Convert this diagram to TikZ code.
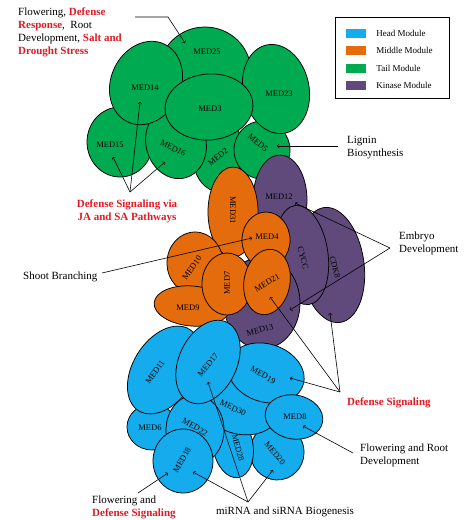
\documentclass[tikz,border=0pt]{standalone}
\usepackage{fontspec}
\setmainfont{Liberation Serif}
\usepackage{xcolor}
\usepackage{tikz}
\usetikzlibrary{shapes.geometric,positioning,arrows}
\definecolor{headblue}{RGB}{20,172,236}
\definecolor{midorange}{RGB}{228,108,12}
\definecolor{tailgreen}{RGB}{0,170,80}
\definecolor{kinpurple}{RGB}{96,74,123}
\definecolor{notered}{RGB}{225,25,35}
\newcommand{\redbf}[1]{\textcolor{notered}{\textbf{#1}}}

\begin{document}
\begin{tikzpicture}[x=1pt,y=-1pt,
		sub/.style={ellipse,draw=black,line width=0.75pt,inner sep=0pt},
		tail/.style={sub,fill=tailgreen},
		kin/.style={sub,fill=kinpurple},
		mid/.style={sub,fill=midorange},
		head/.style={sub,fill=headblue},
		lbl/.style={font=\fontsize{8.5}{9}\selectfont,inner sep=0pt},
		note/.style={font=\fontsize{11}{13}\selectfont,align=left,inner sep=0pt},
		pointer/.style={->,line width=0.6pt},
		swatch/.style={minimum width=20pt,minimum height=9pt,inner sep=0pt},
		keytext/.style={font=\fontsize{9}{10}\selectfont,inner sep=0pt,right=10pt of #1}]
		\useasboundingbox (0,0) rectangle (474,520);
		% tail module
		\node[tail,minimum width=92,minimum height=90] (med25) at (205,72) {};
		\node[tail,minimum width=54,minimum height=70] (med2) at (220,157) {};
		\node[tail,minimum width=56,minimum height=58] (med5) at (262,150) {};
		\node[tail,minimum width=66,minimum height=70] (med15) at (120,142) {};
		\node[tail,minimum width=60,minimum height=72,rotate=15] (med16) at (176,143) {};
		\node[tail,minimum width=66,minimum height=90,rotate=12] (med23) at (276,89) {};
		\node[tail,minimum width=70,minimum height=86,rotate=-25] (med14) at (146,83) {};
		\node[tail,minimum width=88,minimum height=66,rotate=5] (med3) at (209,107) {};
		% kinase module
		\node[kin,minimum width=64,minimum height=116,rotate=8] (cdk8) at (332,265) {};
		\node[kin,minimum width=54,minimum height=90] (med12) at (280,200) {};
		\node[kin,minimum width=52,minimum height=100,rotate=8] (cycc) at (302,255) {};
		\node[kin,minimum width=76,minimum height=92] (med13) at (262,303) {};
		% middle module
		\node[mid,minimum width=50,minimum height=90] (med31) at (233,212) {};
		\node[mid,minimum width=56,minimum height=62] (med10) at (195,263) {};
		\node[mid,minimum width=76,minimum height=40,rotate=-5] (med9) at (192,306) {};
		\node[mid,minimum width=48,minimum height=56] (med4) at (266,240) {};
		\node[mid,minimum width=50,minimum height=62] (med7) at (227,284) {};
		\node[mid,minimum width=46,minimum height=66,rotate=-10] (med21) at (267,282) {};
		% head module
		\node[head,minimum width=54,minimum height=56,rotate=10] (med20) at (277,452) {};
		\node[head,minimum width=40,minimum height=64,rotate=10] (med28) at (233,446) {};
		\node[head,minimum width=80,minimum height=58,rotate=-15] (med30) at (240,405) {};
		\node[head,minimum width=78,minimum height=58,rotate=-18] (med19) at (266,373) {};
		\node[head,minimum width=58,minimum height=44,rotate=-10] (med8) at (294,417) {};
		\node[head,minimum width=50,minimum height=46] (med6) at (152,427) {};
		\node[head,minimum width=58,minimum height=70] (med22) at (195,430) {};
		\node[head,minimum width=60,minimum height=64] (med18) at (183,461) {};
		\node[head,minimum width=96,minimum height=62,rotate=58] (med11) at (164,370) {};
		\node[head,minimum width=88,minimum height=58,rotate=65] (med17) at (208,362) {};
		% subunit names
		\node[lbl] (t25) at (207,52) {MED25};
		\node[lbl] (t14) at (145,88) {MED14};
		\node[lbl] (t15) at (110,145) {MED15};
		\node[lbl,rotate=-28] (t16) at (173,148) {MED16};
		\node[lbl] (t3) at (210,109) {MED3};
		\node[lbl] (t23) at (279,94) {MED23};
		\node[lbl,rotate=40] (t2) at (218,157) {MED2};
		\node[lbl,rotate=-40] (t5) at (258,143) {MED5};
		\node[lbl] (t12) at (279,197) {MED12};
		\node[lbl,rotate=-75] (tcycc) at (303,258) {CYCC};
		\node[lbl,rotate=-75] (tcdk8) at (335,267) {CDK8};
		\node[lbl,rotate=15] (t13) at (260,330) {MED13};
		\node[lbl,rotate=-90] (t31) at (233,210) {MED31};
		\node[lbl] (t4) at (267,237) {MED4};
		\node[lbl,rotate=55] (t10) at (192,268) {MED10};
		\node[lbl] (t9) at (188,308) {MED9};
		\node[lbl,rotate=90] (t7) at (227,283) {MED7};
		\node[lbl,rotate=30] (t21) at (267,283) {MED21};
		\node[lbl,rotate=55] (t11) at (155,372) {MED11};
		\node[lbl,rotate=50] (t17) at (208,365) {MED17};
		\node[lbl,rotate=-30] (t19) at (263,375) {MED19};
		\node[lbl,rotate=-25] (t30) at (233,408) {MED30};
		\node[lbl] (t8) at (295,417) {MED8};
		\node[lbl] (t6) at (150,428) {MED6};
		\node[lbl,rotate=-30] (t22) at (195,427) {MED22};
		\node[lbl,rotate=60] (t18) at (182,460) {MED18};
		\node[lbl,rotate=-75] (t28) at (238,448) {MED28};
		\node[lbl,rotate=-50] (t20) at (275,453) {MED20};
		% legend
		\node[draw,line width=0.8pt,minimum width=114pt,minimum height=81pt,inner sep=0pt] (legend) at (392,57.5) {};
		\node[swatch,fill=headblue] (keyhead) at (356,33) {};
		\node[swatch,fill=midorange,below=8pt of keyhead] (keymid) {};
		\node[swatch,fill=tailgreen,below=8.5pt of keymid] (keytail) {};
		\node[swatch,fill=kinpurple,below=8pt of keytail] (keykin) {};
		\node[keytext=keyhead] (keyheadtxt) {Head Module};
		\node[keytext=keymid] (keymidtxt) {Middle Module};
		\node[keytext=keytail] (keytailtxt) {Tail Module};
		\node[keytext=keykin] (keykintxt) {Kinase Module};
		% roles
		\node[note,anchor=north west] (flowtop) at (18,8) {Flowering, \redbf{Defense}\\\redbf{Response},\ \ Root\\Development, \redbf{Salt and}\\\redbf{Drought Stress}};
		\coordinate (flowtail) at (135,17);
		\coordinate (flowbend) at (168,17);
		\coordinate (tip25) at (185,43);
		\draw[pointer] (flowtail) -- (flowbend) -- (tip25);
		\node[note,anchor=west] (lignin) at (347,148) {Lignin\\Biosynthesis};
		\coordinate (lignintail) at (338,146);
		\coordinate (tip5) at (277,146);
		\draw[pointer] (lignintail) -- (tip5);
		\node[note,align=center,font=\fontsize{11}{13}\selectfont\bfseries,text=notered] (jasa) at (127,211) {Defense Signaling via\\JA and SA Pathways};
		\coordinate (jasafork) at (130,192);
		\coordinate (tip15) at (113,157);
		\coordinate (tip14) at (140,102);
		\coordinate (tip16) at (165,162);
		\draw[pointer] (jasafork) -- (tip15);
		\draw[pointer] (jasafork) -- (tip14);
		\draw[pointer] (jasafork) -- (tip16);
		\node[note,anchor=west] (embryo) at (399,243) {Embryo\\Development};
		\coordinate (embryofork) at (390,248);
		\coordinate (tip12) at (295,203);
		\coordinate (tip13) at (290,310);
		\draw[pointer] (embryofork) -- (tip12);
		\draw[pointer] (embryofork) -- (tip13);
		\node[note,anchor=west] (shoot) at (23,277) {Shoot Branching};
		\coordinate (shoottail) at (102,273);
		\coordinate (tip4) at (252,238);
		\draw[pointer] (shoottail) -- (tip4);
		\node[note,anchor=west,font=\fontsize{11}{13}\selectfont\bfseries,text=notered] (defense) at (347,403) {Defense Signaling};
		\coordinate (defensefork) at (340,392);
		\coordinate (tip19) at (290,378);
		\coordinate (tip21) at (270,297);
		\coordinate (tipcdk8) at (330,313);
		\draw[pointer] (defensefork) -- (tip19);
		\draw[pointer] (defensefork) -- (tip21);
		\draw[pointer] (defensefork) -- (tipcdk8);
		\node[note,anchor=west] (flowroot) at (360,455) {Flowering and Root\\Development};
		\coordinate (flowroottail) at (353,453);
		\coordinate (tip8) at (303,426);
		\draw[pointer] (flowroottail) -- (tip8);
		\node[note,anchor=west] (flowdef) at (92,507) {Flowering and\\\redbf{Defense Signaling}};
		\coordinate (flowdeftail) at (138,493);
		\coordinate (tip18a) at (168,473);
		\draw[pointer] (flowdeftail) -- (tip18a);
		\node[note] (mirna) at (285,512) {miRNA and siRNA Biogenesis};
		\coordinate (mirnafork) at (248,502);
		\coordinate (tip17) at (208,382);
		\coordinate (tip18b) at (193,472);
		\coordinate (tip20) at (273,470);
		\draw[pointer] (mirnafork) -- (tip17);
		\draw[pointer] (mirnafork) -- (tip18b);
		\draw[pointer] (mirnafork) -- (tip20);
	\end{tikzpicture}
\end{document}
